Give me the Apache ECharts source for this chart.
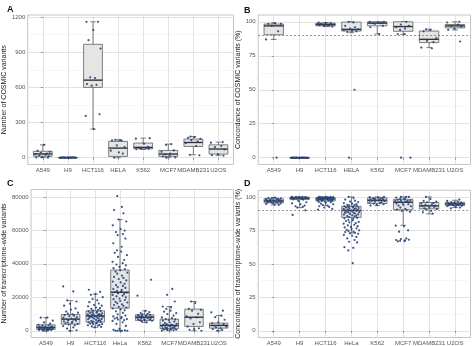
<!DOCTYPE html>
<html><head><meta charset="utf-8">
<script src="https://cdn.jsdelivr.net/npm/echarts@6/dist/echarts.min.js"></script>
<style>html,body{margin:0;padding:0;background:#fff}#c{width:474px;height:346px}</style>
</head><body><div id="c"></div>
<script>
// ---------- categories ----------
const catsTop = ['A549','H9','HCT116','HELA','K562','MCF7','MDAMB231','U2OS'];
const catsBottom = ['A549','H9','HCT116','HeLa','K562','MCF7','MDAMB231','U2OS'];

// ---------- tick labels ----------
const ticksA = [0, 300, 600, 900, 1200];
const ticksB = [0, 25, 50, 75, 100];
const ticksC = [0, 20000, 40000, 60000, 80000];
const ticksD = [0, 25, 50, 75, 100];

// ---------- box statistics [min, q1, median, q3, max] ----------
const boxA = [
  [0, 12, 32, 55, 110],
  [0, 0, 0, 2, 4],
  [244, 600, 662, 968, 1160],
  [0, 11, 82, 139, 153],
  [70, 76, 88, 125, 167],
  [0, 11, 31, 62, 116],
  [25, 96, 130, 159, 181],
  [20, 31, 74, 110, 133]
];
const boxB = [
  [87, 90.5, 97, 98.3, 99],
  [0, 0, 0, 0, 0],
  [96.5, 97, 98, 99, 99.5],
  [92, 93.2, 94.4, 99.8, 100],
  [91, 97, 99, 100, 100],
  [90.8, 93, 96.5, 100, 100],
  [81, 84.7, 87.1, 93.2, 94.5],
  [94, 95.5, 97, 98, 100]
];
const boxC = [
  [0, 800, 2000, 3570, 7900],
  [0, 4000, 6950, 9700, 18000],
  [2000, 5200, 8900, 11900, 21800],
  [0, 13500, 23000, 36300, 66500],
  [5000, 6200, 8100, 9500, 11900],
  [0, 1200, 3200, 6950, 14500],
  [0, 2600, 8100, 12900, 17500],
  [0, 1600, 3200, 4600, 9100]
];
const boxD = [
  [94, 95.6, 97, 98.5, 99.5],
  [92, 98, 99, 99.8, 100],
  [93.5, 97, 98.5, 99.5, 100],
  [73, 84.7, 89.9, 92.9, 100],
  [93.5, 95, 97.5, 99.3, 100],
  [78.8, 90.3, 96, 98.2, 100],
  [87.3, 91.1, 93.3, 95.8, 100],
  [92, 93.6, 94.8, 96, 97.5]
];

// ---------- individual (jittered) observations ----------
const ptsA = [
  [110, 58, 50, 42, 36, 30, 26, 18, 12, 6, 2, 0],
  [0, 1, 0, 2, 0, 1, 3, 0, 2, 1, 0, 4, 1, 0],
  [1160, 1160, 1090, 1003, 932, 686, 680, 629, 622, 615, 371, 357, 244],
  [153, 150, 148, 146, 105, 90, 60, 45, 35, 0],
  [167, 162, 120, 92, 86, 82, 78, 76, 72],
  [116, 110, 62, 50, 35, 28, 20, 10, 2, 0],
  [181, 176, 170, 160, 150, 140, 125, 100, 25, 20],
  [133, 128, 100, 90, 70, 30, 22, 18]
];
const ptsB = [
  [99, 98.5, 98.5, 97, 93, 87, 0],
  [0, 0, 0, 0, 0, 0, 0, 0, 0, 0, 0, 0, 0, 0],
  [99.5, 99, 99, 98.5, 98, 98, 97.5, 97.5, 97, 97, 96.5, 98.5],
  [100, 99.5, 97, 96, 95, 94.5, 94, 93.5, 93, 92.5, 50, 0],
  [100, 100, 99.5, 99.5, 99, 99, 98.5, 97, 96, 91],
  [100, 98, 97, 96, 95, 94, 91, 91, 0, 0],
  [94.5, 94, 93, 88, 86, 85, 81, 80.5],
  [100, 99.5, 98, 97, 96.5, 95, 94, 85.5]
];
const ptsC = [
  [7900, 7800, 6100, 5000, 4300, 3600, 3300, 3000, 2700, 2500, 2350, 2200, 1950, 1900, 1750, 1700, 1550, 1500, 1350, 1300, 1150, 1100, 950, 900, 800, 650, 600, 450, 400, 200, 100],
  [26500, 23500, 18200, 17500, 16100, 15000, 13400, 12600, 11500, 10800, 10300, 9800, 9400, 9000, 8700, 8200, 7800, 7300, 7100, 6900, 6600, 6300, 6000, 5700, 5400, 5100, 4700, 4400, 4100, 3700, 3300, 2800, 2000, 1300, 300, 0],
  [24500, 23200, 22100, 21500, 20100, 19000, 18200, 17100, 16300, 15400, 15000, 14600, 13900, 13500, 13100, 12500, 12100, 11900, 11600, 11400, 11100, 10900, 10600, 10400, 10100, 9900, 9800, 9600, 9400, 9300, 9100, 8900, 8800, 8600, 8400, 8300, 8000, 7900, 7700, 7400, 7300, 7000, 6900, 6500, 6300, 6000, 5900, 5500, 5300, 5100, 4800, 4700, 4400, 4300, 4000, 3900, 3500, 3300, 3000, 2600, 2300, 2000],
  [80500, 74000, 72100, 70200, 66500, 65300, 63000, 60800, 59900, 59000, 57800, 57200, 55100, 52300, 50200, 48100, 47300, 46600, 45200, 44100, 42300, 41200, 40400, 39600, 39100, 38200, 37400, 36900, 36100, 35400, 34800, 34100, 33000, 32200, 31600, 30900, 30100, 29400, 28900, 28100, 27300, 26800, 26100, 25600, 24900, 24400, 23900, 23400, 23100, 22800, 22400, 21900, 21400, 21000, 20500, 19900, 19300, 18900, 18400, 17800, 17300, 16900, 16400, 15800, 15400, 14900, 14300, 13900, 13300, 12800, 12200, 11600, 10700, 9800, 9100, 8600, 8100, 7800, 7500, 7300, 7000, 6700, 6400, 5900, 5100, 4100, 2900, 1100, 500, 200, 0, 0, 0, 0, 0],
  [30500, 21000, 11900, 11200, 10600, 10100, 9800, 9500, 9300, 9100, 8900, 8700, 8500, 8300, 8100, 8000, 7800, 7600, 7400, 7200, 7000, 6800, 6600, 6400, 6200, 6000, 5600, 5000],
  [25000, 21500, 17500, 14500, 14000, 13100, 12000, 11400, 10600, 10000, 9100, 8000, 7600, 7000, 6800, 6400, 6100, 5500, 5100, 4600, 4200, 4000, 3700, 3500, 3300, 3200, 2900, 2800, 2500, 2200, 2000, 1800, 1600, 1500, 1400, 1200, 1000, 900, 700, 600, 500, 300, 0],
  [17500, 16600, 13100, 12500, 12000, 10100, 8600, 8000, 7400, 5100, 4000, 2500, 1500, 1000, 500, 0],
  [12000, 11000, 9000, 8100, 6600, 5000, 4500, 4000, 3200, 3000, 2500, 2000, 1500, 1000, 500, 0]
];
const ptsD = [
  [99.5, 99.2, 99, 98.8, 98.5, 98.3, 98.1, 97.8, 97.6, 97.4, 97.2, 97, 96.9, 96.6, 96.4, 96.2, 96, 95.8, 95.6, 95.3, 95, 94.7, 94.3, 94],
  [100, 100, 100, 99.8, 99.6, 99.5, 99.4, 99.2, 99, 99, 98.8, 98.5, 98.2, 98, 97, 96, 95.2, 94.5, 93.5, 93, 92.5, 92, 90, 86.5],
  [100, 100, 100, 99.9, 99.8, 99.7, 99.6, 99.5, 99.4, 99.3, 99.2, 99.1, 99, 99, 98.9, 98.8, 98.7, 98.6, 98.5, 98.4, 98.3, 98.2, 98, 97.9, 97.8, 97.6, 97.4, 97.2, 97, 96.8, 96.5, 96.2, 96, 95.5, 95, 94.5, 94, 93.5, 93, 92.5, 92, 91, 90.5],
  [100, 99.1, 98, 97.2, 96.5, 96.1, 95.4, 95, 94.6, 94.1, 93.8, 93.6, 93.2, 93, 92.7, 92.5, 92.2, 92, 91.7, 91.5, 91.4, 91, 90.8, 90.6, 90.2, 90, 89.8, 89.6, 89.3, 89, 88.7, 88.4, 88.2, 88, 87.6, 87.3, 87, 86.8, 86.3, 86, 85.7, 85.5, 85, 84.4, 84, 83.6, 82.9, 82.4, 82, 81.3, 81, 80.4, 80, 79.2, 78.8, 78.1, 77.6, 77.2, 76.5, 76, 75.3, 75, 74.6, 74, 73.7, 73.2, 72.8, 72.4, 71.6, 71, 70.1, 69, 67.8, 66.5, 66, 62.5, 62, 60, 50.5],
  [100, 99.8, 99.5, 99.3, 99, 98.8, 98.5, 98.2, 98, 97.7, 97.5, 97.2, 97, 96.8, 96.5, 96.2, 96, 95.5, 95, 94.5, 94, 93.5],
  [100, 100, 100, 99.5, 99, 98.5, 98, 97.8, 97.5, 97.2, 97, 96.8, 96.5, 96.2, 96, 95.5, 95, 94.5, 94, 93.5, 93, 92, 91, 90.5, 90, 89.5, 89, 78.5, 78, 75, 74, 69, 68.5, 68, 67.8, 67.5, 67.2, 67, 66.8],
  [100, 98.5, 97, 96.5, 96, 95.5, 95, 94.5, 94, 93.5, 93.3, 93, 92.5, 92, 91.5, 91, 90.5, 89.5, 88.5, 87.5],
  [98, 97, 96.5, 96, 95.8, 95.5, 95.2, 95, 94.8, 94.6, 94.5, 94.3, 94.1, 94, 93.8, 93.6, 93.3, 93, 92.5, 92, 91.5]
];
// fixed horizontal jitter offsets (category units)
const JIT = [0.05,-0.21,0.28,-0.08,0.17,-0.3,0.11,-0.14,0.24,-0.02,-0.26,0.2,0.01,-0.18,0.3,-0.11,0.08,-0.24,0.14,-0.05,0.26,-0.29,0.03,0.19,-0.16,0.12,-0.09,0.22,-0.27,0.07,-0.12];

// ---------- build option ----------
const FONT = 'Liberation Sans, Arial, sans-serif';
const panels = [
  {box: boxA, pts: ptsA, cats: catsTop, ticks: ticksA, range: [-58, 1218], name: 'Number of COSMIC variants', ref: null,
   grid: {left: 21.5, top: 15, width: 212, height: 149.5}, gap: 13},
  {box: boxB, pts: ptsB, cats: catsTop, ticks: ticksB, range: [-5, 105], name: 'Concordance of COSMIC variants (%)', ref: 90,
   grid: {left: 258.2, top: 15, width: 212.3, height: 149.5}, gap: 12},
  {box: boxC, pts: ptsC, cats: catsBottom, ticks: ticksC, range: [-4020, 84420], name: 'Number of transcriptome-wide variants', ref: null,
   grid: {left: 21.5, top: 189.5, width: 212, height: 149}, gap: 13},
  {box: boxD, pts: ptsD, cats: catsBottom, ticks: ticksD, range: [-5, 105], name: 'Concordance of transcriptome-wide variants (%)', ref: 90,
   grid: {left: 258.2, top: 190.2, width: 212.3, height: 148.8}, gap: 12}
];

function renderBox(params, api) {
  const x = api.value(0);
  const lo = api.coord([x, api.value(1)]);
  const q1 = api.coord([x, api.value(2)]);
  const md = api.coord([x, api.value(3)]);
  const q3 = api.coord([x, api.value(4)]);
  const hi = api.coord([x, api.value(5)]);
  const bw = api.size([0.75, 0])[0];
  const cw = api.size([0.22, 0])[0];
  const cx = md[0];
  const st = {stroke: '#4d4d4d', lineWidth: 0.7, fill: null};
  return {type: 'group', children: [
    {type: 'line', shape: {x1: cx, y1: lo[1], x2: cx, y2: hi[1]}, style: st},
    {type: 'line', shape: {x1: cx - cw / 2, y1: lo[1], x2: cx + cw / 2, y2: lo[1]}, style: st},
    {type: 'line', shape: {x1: cx - cw / 2, y1: hi[1], x2: cx + cw / 2, y2: hi[1]}, style: st},
    {type: 'rect', shape: {x: cx - bw / 2, y: q3[1], width: bw, height: Math.max(q1[1] - q3[1], 0.5)},
     style: {fill: '#e5e5e5', stroke: '#4d4d4d', lineWidth: 0.7}},
    {type: 'line', shape: {x1: cx - bw / 2, y1: md[1], x2: cx + bw / 2, y2: md[1]}, style: {stroke: '#333', lineWidth: 1.4}}
  ]};
}

const option = {
  animation: false,
  backgroundColor: '#fff',
  title: [
    {text: 'A', left: 2, top: 0},
    {text: 'B', left: 239, top: 1},
    {text: 'C', left: 2, top: 174},
    {text: 'D', left: 239, top: 174}
  ].map(t => Object.assign(t, {textStyle: {fontSize: 9, fontWeight: 'bold', color: '#111', fontFamily: FONT}})),
  grid: [], xAxis: [], yAxis: [], series: []
};

panels.forEach((p, k) => {
  option.grid.push(Object.assign({show: true, borderColor: '#b8b8b8', borderWidth: 0.8, containLabel: false}, p.grid));
  const xs = p.cats.map((c, i) => i);
  option.xAxis.push({
    type: 'value', gridIndex: k, min: -0.6, max: 7.6,
    splitLine: {show: false}, axisLine: {show: false},
    axisTick: {show: true, length: 2, lineStyle: {color: '#555', width: 0.6}, customValues: xs},
    axisLabel: {customValues: xs, formatter: v => p.cats[Math.round(v)] || '', fontSize: 6, color: '#555', margin: 2.5, fontFamily: FONT}
  });
  const minor = p.ticks.slice(1).map((t, i) => (t + p.ticks[i]) / 2);
  option.yAxis.push({
    type: 'value', gridIndex: k, min: p.range[0], max: p.range[1],
    splitLine: {show: false}, axisLine: {show: false},
    axisTick: {show: true, length: 2, lineStyle: {color: '#555', width: 0.6}, customValues: p.ticks},
    axisLabel: {customValues: p.ticks, formatter: v => String(v), fontSize: 6, color: '#555', margin: 2.5, fontFamily: FONT},
    name: p.name, nameLocation: 'middle', nameGap: p.gap,
    nameTextStyle: {fontSize: 7, color: '#222', fontFamily: FONT}
  });
  // background grid lines
  const gridLines = [];
  p.ticks.forEach(t => gridLines.push({yAxis: t}));
  minor.forEach(t => gridLines.push({yAxis: t, lineStyle: {color: '#f2f2f2', width: 0.6}}));
  xs.forEach(x => gridLines.push({xAxis: x}));
  option.series.push({
    type: 'scatter', xAxisIndex: k, yAxisIndex: k, data: [], z: 0, silent: true,
    markLine: {silent: true, z: 0, symbol: ['none', 'none'], label: {show: false}, animation: false,
      lineStyle: {color: '#e3e3e3', width: 1, type: 'solid'}, data: gridLines}
  });
  // boxes
  option.series.push({
    type: 'custom', xAxisIndex: k, yAxisIndex: k, z: 2, silent: true,
    renderItem: renderBox, encode: {x: 0, y: [1, 2, 3, 4, 5]},
    data: p.box.map((b, i) => [i].concat(b))
  });
  // points
  const pts = [];
  p.pts.forEach((arr, c) => arr.forEach((v, i) => pts.push([c + JIT[(i + 5 * c) % JIT.length], v])));
  const sc = {
    type: 'scatter', xAxisIndex: k, yAxisIndex: k, z: 3, silent: true,
    symbolSize: 2.2, itemStyle: {color: '#24427a', opacity: 0.9}, data: pts
  };
  if (p.ref !== null) {
    sc.markLine = {silent: true, symbol: ['none', 'none'], label: {show: false}, animation: false,
      lineStyle: {color: '#666', width: 0.7, type: [2, 2]}, data: [{yAxis: p.ref}]};
  }
  option.series.push(sc);
});

const chart = echarts.init(document.getElementById('c'), null, {renderer: 'canvas'});
chart.setOption(option);
</script></body></html>
